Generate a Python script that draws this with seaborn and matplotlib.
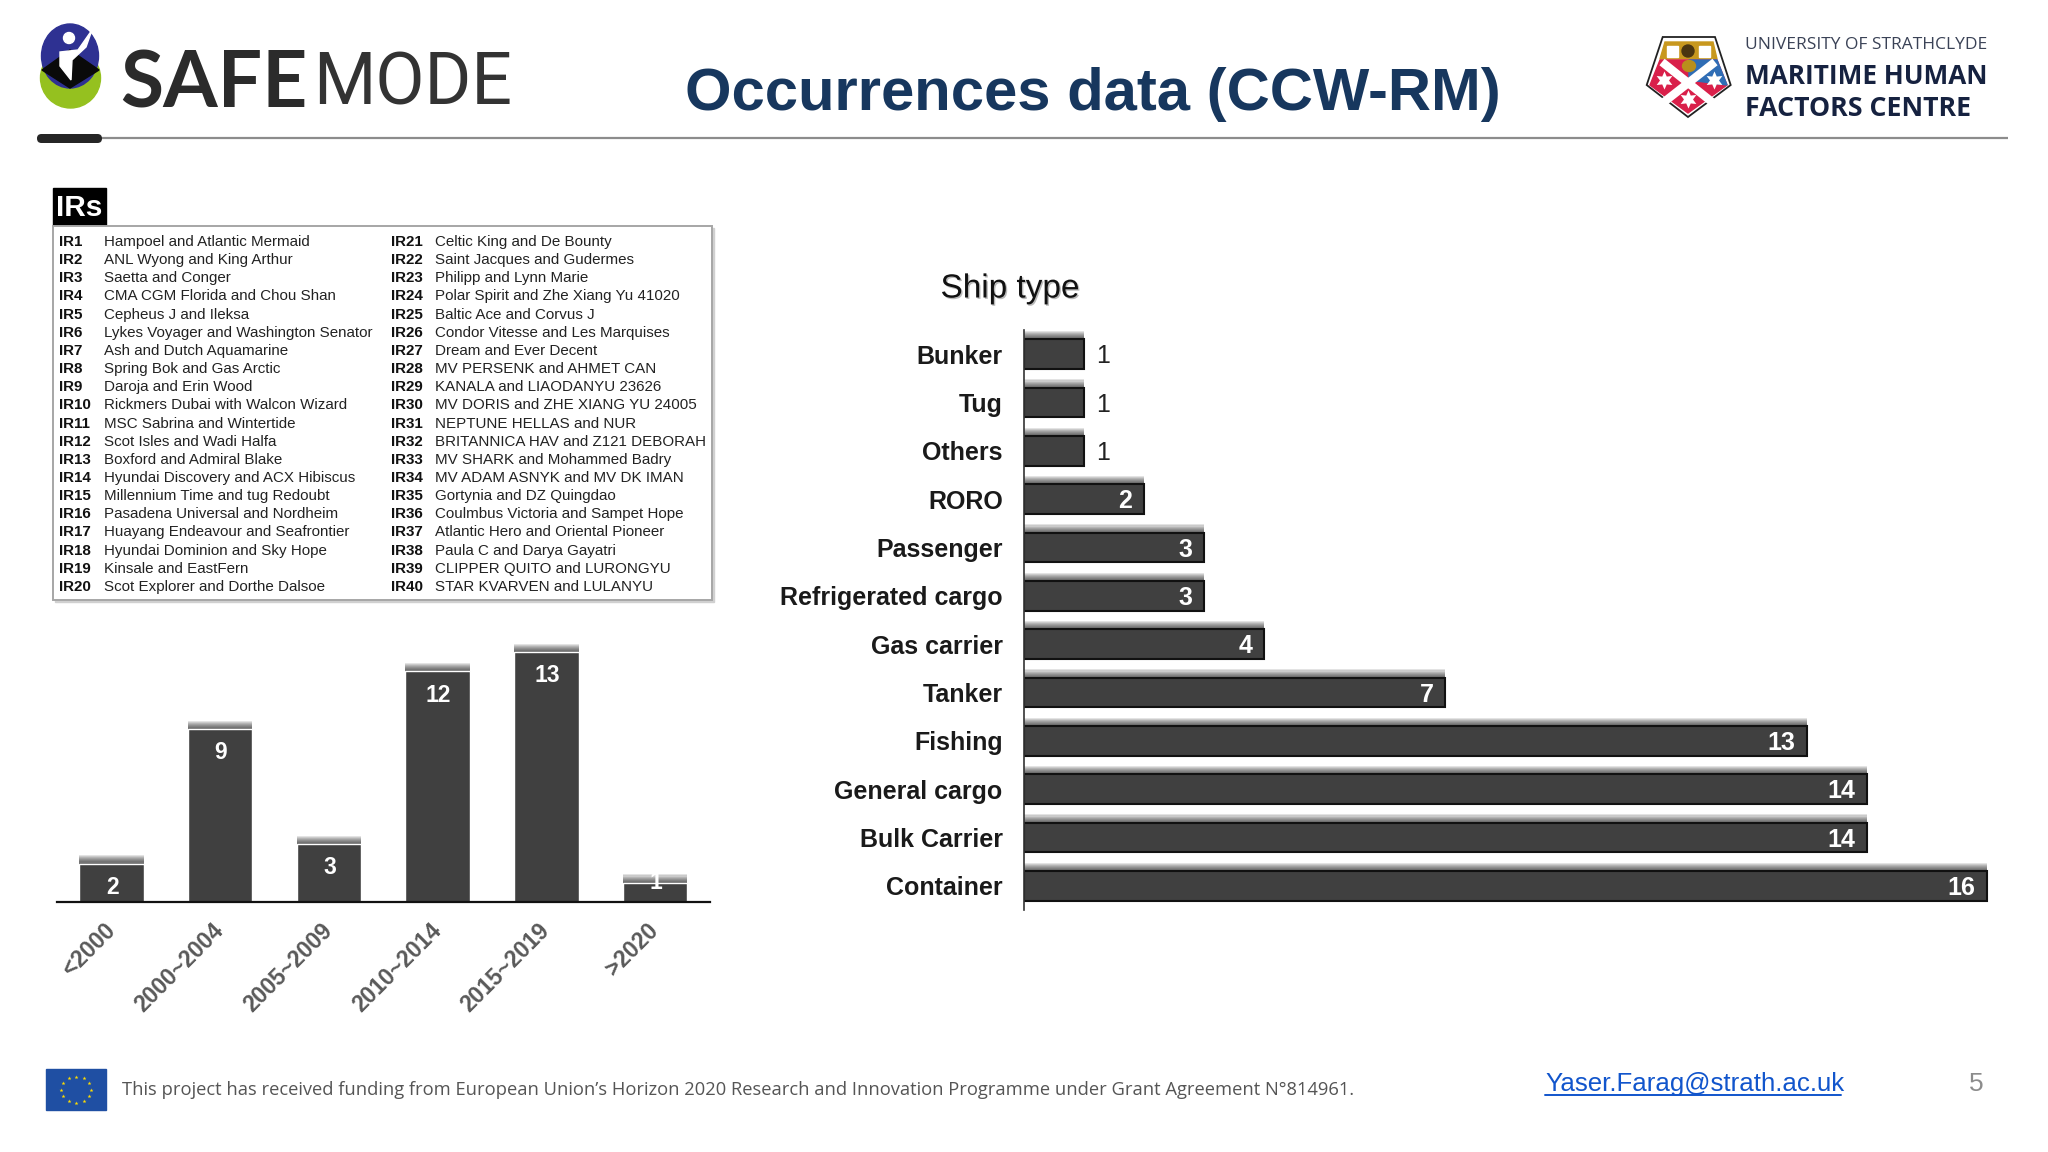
#!/usr/bin/env python3
import matplotlib
matplotlib.use('Agg')
import matplotlib.pyplot as plt
import matplotlib.patheffects as pe
from matplotlib.patches import Ellipse, Polygon, Rectangle, FancyBboxPatch
import numpy as np
import seaborn as sns

W, H = 2048, 1152

periods = ['<2000', '2000~2004', '2005~2009', '2010~2014', '2015~2019', '>2020']
period_counts = [2, 9, 3, 12, 13, 1]

ship_types = ['Bunker', 'Tug', 'Others', 'RORO', 'Passenger', 'Refrigerated cargo',
              'Gas carrier', 'Tanker', 'Fishing', 'General cargo', 'Bulk Carrier', 'Container']
ship_counts = [1, 1, 1, 2, 3, 3, 4, 7, 13, 14, 14, 16]

ir_names_left = ['Hampoel and Atlantic Mermaid', 'ANL Wyong and King Arthur', 'Saetta and Conger',
                 'CMA CGM Florida and Chou Shan', 'Cepheus J and Ileksa',
                 'Lykes Voyager and Washington Senator', 'Ash and Dutch Aquamarine',
                 'Spring Bok and Gas Arctic', 'Daroja and Erin Wood', 'Rickmers Dubai with Walcon Wizard',
                 'MSC Sabrina and Wintertide', 'Scot Isles and Wadi Halfa', 'Boxford and Admiral Blake',
                 'Hyundai Discovery and ACX Hibiscus', 'Millennium Time and tug Redoubt',
                 'Pasadena Universal and Nordheim', 'Huayang Endeavour and Seafrontier',
                 'Hyundai Dominion and Sky Hope', 'Kinsale and EastFern', 'Scot Explorer and Dorthe Dalsoe']
ir_names_right = ['Celtic King and De Bounty', 'Saint Jacques and Gudermes', 'Philipp and Lynn Marie',
                  'Polar Spirit and Zhe Xiang Yu 41020', 'Baltic Ace and Corvus J',
                  'Condor Vitesse and Les Marquises', 'Dream and Ever Decent', 'MV PERSENK and AHMET CAN',
                  'KANALA and LIAODANYU 23626', 'MV DORIS and ZHE XIANG YU 24005', 'NEPTUNE HELLAS and NUR',
                  'BRITANNICA HAV and Z121 DEBORAH', 'MV SHARK and Mohammed Badry',
                  'MV ADAM ASNYK and MV DK IMAN', 'Gortynia and DZ Quingdao', 'Coulmbus Victoria and Sampet Hope',
                  'Atlantic Hero and Oriental Pioneer', 'Paula C and Darya Gayatri',
                  'CLIPPER QUITO and LURONGYU', 'STAR KVARVEN and LULANYU']

sns.set_theme(style='white')
plt.rcParams['font.family'] = ['Liberation Sans', 'DejaVu Sans']

fig = plt.figure(figsize=(W / 100, H / 100), dpi=100, facecolor='white')


def px_axes(x0, y0, x1, y1):
    return fig.add_axes([x0 / W, 1 - y1 / H, (x1 - x0) / W, (y1 - y0) / H])


# soft grey band over the bars, as the slide has
def blur_top():
    fx = [pe.SimplePatchShadow(offset=(0, k), shadow_rgbFace='k', alpha=0.12) for k in np.arange(6, 0, -0.75)]
    return fx + [pe.Normal()]


# page furniture lives on a full-slide axes in pixel coordinates
bg = fig.add_axes([0, 0, 1, 1])
bg.set_xlim(0, W)
bg.set_ylim(H, 0)
bg.axis('off')

# SAFEMODE logo
bg.add_patch(Ellipse((70.5, 78), 60, 60, color='#95c11f'))
bg.add_patch(Ellipse((70, 56), 57, 64, color='#2e3192'))
bg.add_patch(Polygon([(42, 70), (70, 50), (99, 70), (70, 88)], color='#0a0a0a'))
bg.add_patch(Ellipse((69, 38), 11, 11, color='white'))
bg.add_patch(Polygon([(60, 52), (78, 50), (92, 30), (86, 47), (72, 60), (71, 80), (60, 66)], color='white'))
bg.text(120, 85, 'SAFE', fontsize=56.5, color='#2b2b2b', family='Lato', weight='bold', va='center', ha='left')
bg.text(313, 85, 'MODE', fontsize=51.5, color='#333333', family='Roboto', weight='normal', va='center', ha='left')

bg.text(1093, 95, 'Occurrences data (CCW-RM)', fontsize=43, weight='bold', color='#17375e', ha='center', va='center')

# header rule
bg.plot([37, 2008], [138, 138], color='#8c8c8c', lw=1.6, solid_capstyle='butt')
bg.add_patch(FancyBboxPatch((37, 134), 65, 9, boxstyle='round,pad=0,rounding_size=4.5', fc='#262626', ec='none', zorder=3))

# Strathclyde shield
bg.add_patch(Polygon([(1662.7, 37), (1715, 37), (1730.7, 85), (1688, 117), (1646.7, 85)], fc='white', ec='#222222', lw=1.3))
bg.add_patch(Polygon([(1665, 42), (1713, 42), (1717, 59), (1660, 59)], color='#c8981e'))
bg.add_patch(Polygon([(1660, 60), (1717, 60), (1727, 85), (1688, 113), (1650, 85)], color='#d9204a'))
bg.add_patch(Polygon([(1689, 60), (1717, 60), (1727, 85), (1689, 80)], color='#2f6db5'))
bg.plot([1662, 1712], [62, 102], color='white', lw=6, solid_capstyle='butt')
bg.plot([1715, 1664], [62, 102], color='white', lw=6, solid_capstyle='butt')
for cx, cy in [(1664, 80), (1714, 80), (1688, 99)]:
    bg.scatter([cx], [cy], marker=(6, 1, 0), s=170, color='white', lw=0)
bg.add_patch(Rectangle((1667, 46), 11, 11, color='white'))
bg.add_patch(Rectangle((1699, 46), 11, 11, color='white'))
bg.add_patch(Ellipse((1688, 51), 12, 12, color='#4a3510'))
bg.add_patch(Ellipse((1689, 66), 13, 11, color='#b98f1b'))

bg.text(1745, 45, 'UNIVERSITY OF STRATHCLYDE', fontsize=12.5, color='#3a4256', family='Open Sans', va='center')
bg.text(1745, 76, 'MARITIME HUMAN', fontsize=18.8, color='#162240', family='Open Sans', weight='bold', va='center')
bg.text(1745, 109, 'FACTORS CENTRE', fontsize=19.3, color='#162240', family='Open Sans', weight='bold', va='center')

# IR list
bg.add_patch(Rectangle((53, 188), 53, 38, color='black'))
bg.text(79.5, 208, 'IRs', color='white', fontsize=21.5, weight='bold', ha='center', va='center')
bg.add_patch(Rectangle((55, 228), 659, 374, color='#d0d0d0'))
bg.add_patch(Rectangle((53, 226), 659, 374, fc='white', ec='#a6a6a6', lw=1.4))
row_ys = 242 + 18.15 * np.arange(20)
for i, y in enumerate(row_ys):
    bg.text(59, y, f'IR{i + 1}', fontsize=10.9, weight='bold', color='#111111', va='center')
    bg.text(103.5, y, ir_names_left[i], fontsize=10.9, color='#222222', va='center')
    bg.text(391, y, f'IR{i + 21}', fontsize=10.9, weight='bold', color='#111111', va='center')
    bg.text(435, y, ir_names_right[i], fontsize=10.9, color='#222222', va='center')

# footer
bg.add_patch(Rectangle((46, 1069), 60, 41, color='#1f4fa3'))
for a in np.arange(0, 360, 30):
    bg.scatter([76 + 15 * np.sin(np.radians(a))], [1089.5 + 13 * np.cos(np.radians(a))],
               marker='*', s=9, color='#ffdd00', lw=0)
bg.text(122, 1090, "This project has received funding from European Union\u2019s Horizon 2020 Research and Innovation "
        "Programme under Grant Agreement N\u00b0814961.", fontsize=13.25, color='#555555', family='Open Sans', va='center')
bg.text(1545, 1084, 'Yaser.Farag@strath.ac.uk', fontsize=18.6, color='#1155cc', va='center')
bg.plot([1545, 1841], [1095, 1095], color='#1155cc', lw=1.4)
bg.text(1969, 1084, '5', fontsize=19, color='#8c8c8c', ha='left', va='center')

# period bars
ax1 = px_axes(57, 633, 709.5, 902)
ax1.patch.set_alpha(0)
sns.barplot(x=periods, y=period_counts, color='#404040', saturation=1, width=0.593, ax=ax1)
ax1.set_xlim(-0.5, 5.5)
ax1.set_ylim(0, 14)
ax1.yaxis.set_visible(False)
sns.despine(ax=ax1, left=True)
ax1.spines['bottom'].set_color('#111111')
ax1.spines['bottom'].set_linewidth(1.6)
ax1.tick_params(axis='x', length=0, pad=18)
for lab in ax1.get_xticklabels():
    lab.set_rotation(45)
    lab.set_rotation_mode('anchor')
    lab.set_ha('right')
    lab.set_va('center')
    lab.set_fontsize(16.5)
    lab.set_color('#595959')
    lab.set_fontweight('bold')
for bar, n in zip(ax1.patches, period_counts):
    bar.set_path_effects(blur_top())
    ax1.annotate(str(n), (bar.get_x() + bar.get_width() / 2, n), xytext=(0.5, -17 if n > 1 else 0),
                 textcoords='offset points', ha='center', va='center', color='white', fontsize=16.5, weight='bold')

# ship type bars
ax2 = px_axes(1023.5, 330, 2017.6, 910)
ax2.patch.set_alpha(0)
sns.barplot(y=ship_types, x=ship_counts, orient='h', color='#404040', saturation=1, width=0.61,
            edgecolor='#111111', linewidth=1.5, ax=ax2)
ax2.set_xlim(0, 16.5)
ax2.set_ylim(11.5, -0.5)
ax2.xaxis.set_visible(False)
sns.despine(ax=ax2, bottom=True)
ax2.spines['left'].set_color('#333333')
ax2.spines['left'].set_linewidth(1.2)
ax2.tick_params(axis='y', length=0, pad=15)
for lab in ax2.get_yticklabels():
    lab.set_fontsize(18)
    lab.set_fontweight('bold')
    lab.set_color('#1a1a1a')
for bar, n in zip(ax2.patches, ship_counts):
    bar.set_path_effects(blur_top())
    y = bar.get_y() + bar.get_height() / 2
    if n > 1:
        ax2.annotate(str(n), (n, y), xytext=(-8.5, -1.5), textcoords='offset points', ha='right', va='center',
                     color='white', fontsize=18, weight='bold')
    else:
        ax2.annotate(str(n), (n, y), xytext=(14, -1.5), textcoords='offset points', ha='center', va='center',
                     color='#222222', fontsize=18)
bg.text(1010, 289, 'Ship type', fontsize=24, color='#111111', ha='center', va='center',
        path_effects=[pe.SimplePatchShadow(offset=(1, -1), shadow_rgbFace='k', alpha=0.3), pe.Normal()])

fig.savefig('out.png', dpi=100)
